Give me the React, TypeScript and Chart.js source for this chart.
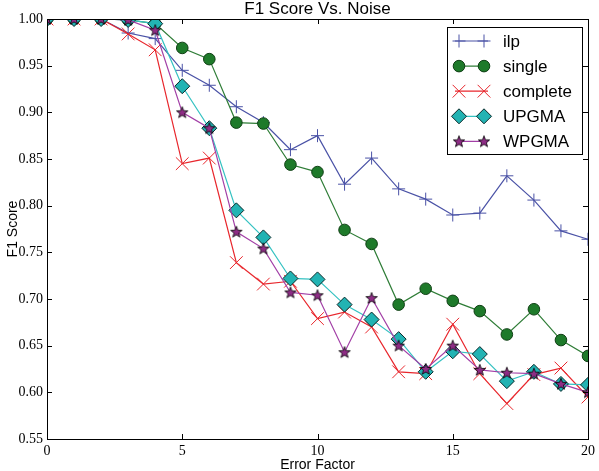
import React, { useEffect, useRef } from "react";
import { Chart, registerables } from "chart.js";
import { drawPoint } from "chart.js/helpers";

Chart.register(...registerables);

const errorFactor = [0, 1, 2, 3, 4, 5, 6, 7, 8, 9, 10, 11, 12, 13, 14, 15, 16, 17, 18, 19, 20];
const ilp = [1.0, 1.0, 1.0, 0.985, 0.979, 0.945, 0.929, 0.906, 0.889, 0.86, 0.875, 0.823, 0.851, 0.818, 0.807, 0.79, 0.792, 0.832, 0.806, 0.773, 0.764];
const single = [1.0, 1.0, 1.0, 0.999, 0.995, 0.969, 0.957, 0.889, 0.888, 0.844, 0.836, 0.774, 0.759, 0.694, 0.711, 0.698, 0.687, 0.662, 0.689, 0.656, 0.639];
const complete = [1.0, 1.0, 1.0, 0.984, 0.967, 0.845, 0.851, 0.739, 0.716, 0.719, 0.679, 0.686, 0.67, 0.622, 0.62, 0.673, 0.62, 0.588, 0.619, 0.626, 0.595];
const upgma = [1.0, 1.0, 1.0, 0.999, 0.995, 0.928, 0.883, 0.795, 0.766, 0.722, 0.721, 0.694, 0.678, 0.657, 0.622, 0.644, 0.641, 0.612, 0.622, 0.609, 0.608];
const wpgma = [1.0, 1.0, 1.0, 0.999, 0.988, 0.9, 0.883, 0.772, 0.754, 0.707, 0.704, 0.643, 0.701, 0.65, 0.625, 0.65, 0.624, 0.621, 0.62, 0.609, 0.6];

const yTicks = [0.55, 0.6, 0.65, 0.7, 0.75, 0.8, 0.85, 0.9, 0.95, 1.0];
const xTicks = [0, 5, 10, 15, 20];

const sansFont = "'Liberation Sans', Arial, sans-serif";
const serifFont = "'Liberation Serif', 'Times New Roman', serif";

// filled five-pointed star used as the WPGMA marker
function makeStar(): HTMLCanvasElement {
    const c = document.createElement("canvas");
    c.width = 14;
    c.height = 14;
    const g = c.getContext("2d")!;
    const cx = 7, cy = 7.4, outer = 6, inner = 2.5;
    g.beginPath();
    for (let i = 0; i < 10; i++) {
        const r = i % 2 === 0 ? outer : inner;
        const a = -Math.PI / 2 + (i * Math.PI) / 5;
        const px = cx + r * Math.cos(a);
        const py = cy + r * Math.sin(a);
        if (i === 0) g.moveTo(px, py);
        else g.lineTo(px, py);
    }
    g.closePath();
    g.fillStyle = "#8e2c85";
    g.fill();
    g.lineWidth = 0.8;
    g.strokeStyle = "#000000";
    g.stroke();
    return c;
}

const toPoints = (vals: number[]) => errorFactor.map((x, i) => ({ x, y: vals[i] }));

const framePlugin = {
    id: "mplFrame",
    afterDatasetsDraw(chart: any) {
        const { ctx, chartArea } = chart;
        const { left, right, top, bottom } = chartArea;
        const xs = chart.scales.x;
        const ys = chart.scales.y;
        ctx.save();
        ctx.strokeStyle = "#000";
        ctx.lineWidth = 1;
        // inward ticks on all four sides
        ctx.beginPath();
        xTicks.forEach(v => {
            const px = Math.round(xs.getPixelForValue(v)) + 0.5;
            ctx.moveTo(px, bottom);
            ctx.lineTo(px, bottom - 5);
            ctx.moveTo(px, top);
            ctx.lineTo(px, top + 5);
        });
        yTicks.forEach(v => {
            const py = Math.round(ys.getPixelForValue(v)) + 0.5;
            ctx.moveTo(left, py);
            ctx.lineTo(left + 5, py);
            ctx.moveTo(right, py);
            ctx.lineTo(right - 5, py);
        });
        ctx.stroke();
        ctx.strokeRect(Math.round(left) + 0.5, Math.round(top) + 0.5, Math.round(right - left), Math.round(bottom - top));

        // title and axis labels
        ctx.fillStyle = "#000";
        ctx.textAlign = "center";
        ctx.textBaseline = "alphabetic";
        ctx.font = `17px ${sansFont}`;
        ctx.fillText("F1 Score Vs. Noise", (left + right) / 2, 14);
        ctx.font = `14px ${sansFont}`;
        ctx.fillText("Error Factor", (left + right) / 2, 469);
        ctx.save();
        ctx.translate(16.5, (top + bottom) / 2);
        ctx.rotate(-Math.PI / 2);
        ctx.fillText("F1 Score", 0, 0);
        ctx.restore();

        // legend box in the upper right
        const bx = 447, by = 27, bw = 135, bh = 127;
        ctx.fillStyle = "#fff";
        ctx.fillRect(bx, by, bw, bh);
        ctx.strokeRect(bx + 0.5, by + 0.5, bw, bh);
        chart.data.datasets.forEach((ds: any, i: number) => {
            const rowY = 41 + i * 25.1;
            ctx.strokeStyle = ds.borderColor;
            ctx.lineWidth = ds.borderWidth;
            ctx.beginPath();
            ctx.moveTo(455, rowY);
            ctx.lineTo(488, rowY);
            ctx.stroke();
            [459, 484].forEach(mx => {
                ctx.fillStyle = ds.pointBackgroundColor;
                ctx.strokeStyle = ds.pointBorderColor;
                ctx.lineWidth = ds.pointBorderWidth;
                drawPoint(ctx, {
                    pointStyle: ds.pointStyle,
                    radius: ds.pointRadius,
                    rotation: 0,
                    borderWidth: ds.pointBorderWidth,
                }, mx, rowY);
            });
            ctx.fillStyle = "#000";
            ctx.textAlign = "left";
            ctx.textBaseline = "middle";
            ctx.font = `17px ${sansFont}`;
            ctx.fillText(ds.label, 503, rowY + 1);
        });
        ctx.restore();
    },
};

const App: React.FC = () => {
    const chartRef = useRef<HTMLCanvasElement | null>(null);
    const chartInstanceRef = useRef<Chart | null>(null);

    useEffect(() => {
        document.body.style.margin = "0";
        if (!chartRef.current) return;
        const ctx = chartRef.current.getContext("2d");
        if (!ctx) return;

        if (chartInstanceRef.current) {
            chartInstanceRef.current.destroy();
        }

        const star = makeStar();

        chartInstanceRef.current = new Chart(ctx, {
            type: "line",
            data: {
                datasets: [
                    {
                        label: "ilp",
                        data: toPoints(ilp),
                        borderColor: "#4a52a6",
                        borderWidth: 1.2,
                        pointStyle: "cross",
                        pointRadius: 6.5,
                        pointBorderColor: "#4a52a6",
                        pointBackgroundColor: "#4a52a6",
                        pointBorderWidth: 1,
                        clip: 0,
                        order: 4,
                    },
                    {
                        label: "single",
                        data: toPoints(single),
                        borderColor: "#2f7d37",
                        borderWidth: 1.2,
                        pointStyle: "circle",
                        pointRadius: 5.8,
                        pointBorderColor: "#0f3f14",
                        pointBackgroundColor: "#1e7a2a",
                        pointBorderWidth: 1,
                        clip: 0,
                        order: 3,
                    },
                    {
                        label: "complete",
                        data: toPoints(complete),
                        borderColor: "#e8262c",
                        borderWidth: 1.2,
                        pointStyle: "crossRot",
                        pointRadius: 9,
                        pointBorderColor: "#e8262c",
                        pointBackgroundColor: "#e8262c",
                        pointBorderWidth: 1,
                        clip: 0,
                        order: 2,
                    },
                    {
                        label: "UPGMA",
                        data: toPoints(upgma),
                        borderColor: "#35c2c2",
                        borderWidth: 1.2,
                        pointStyle: "rectRot",
                        pointRadius: 7.5,
                        pointBorderColor: "#0a2a2a",
                        pointBackgroundColor: "#22b3b3",
                        pointBorderWidth: 1,
                        clip: 0,
                        order: 1,
                    },
                    {
                        label: "WPGMA",
                        data: toPoints(wpgma),
                        borderColor: "#a23fa6",
                        borderWidth: 1.2,
                        pointStyle: star,
                        pointRadius: 6,
                        pointBorderColor: "#000",
                        pointBackgroundColor: "#8e2c85",
                        pointBorderWidth: 0.8,
                        clip: 0,
                        order: 0,
                    },
                ] as any,
            },
            options: {
                animation: false,
                responsive: false,
                maintainAspectRatio: false,
                layout: { padding: { top: 19, right: 9, left: 0, bottom: 0 } },
                datasets: { line: { tension: 0 } } as any,
                plugins: {
                    legend: { display: false },
                    tooltip: { enabled: false },
                    title: { display: false },
                },
                scales: {
                    x: {
                        type: "linear",
                        min: 0,
                        max: 20,
                        grid: { display: false, drawTicks: false },
                        border: { display: false },
                        afterBuildTicks: (scale: any) => {
                            scale.ticks = xTicks.map(v => ({ value: v }));
                        },
                        afterFit: (scale: any) => {
                            scale.height = 32;
                        },
                        ticks: {
                            color: "#000",
                            padding: 4,
                            maxRotation: 0,
                            autoSkip: false,
                            font: { family: serifFont, size: 14 },
                        },
                    },
                    y: {
                        min: 0.55,
                        max: 1.0,
                        grid: { display: false, drawTicks: false },
                        border: { display: false },
                        afterBuildTicks: (scale: any) => {
                            scale.ticks = yTicks.map(v => ({ value: v }));
                        },
                        afterFit: (scale: any) => {
                            scale.width = 47;
                        },
                        ticks: {
                            color: "#000",
                            padding: 4,
                            autoSkip: false,
                            font: { family: serifFont, size: 14 },
                            callback: (v: any) => Number(v).toFixed(2),
                        },
                    },
                },
            },
            plugins: [framePlugin],
        });

        return () => {
            if (chartInstanceRef.current) {
                chartInstanceRef.current.destroy();
                chartInstanceRef.current = null;
            }
        };
    }, []);

    return (
        <div style={{ width: "599px", height: "471px" }}>
            <canvas ref={chartRef} width={599} height={471}></canvas>
        </div>
    );
};

export default App;
